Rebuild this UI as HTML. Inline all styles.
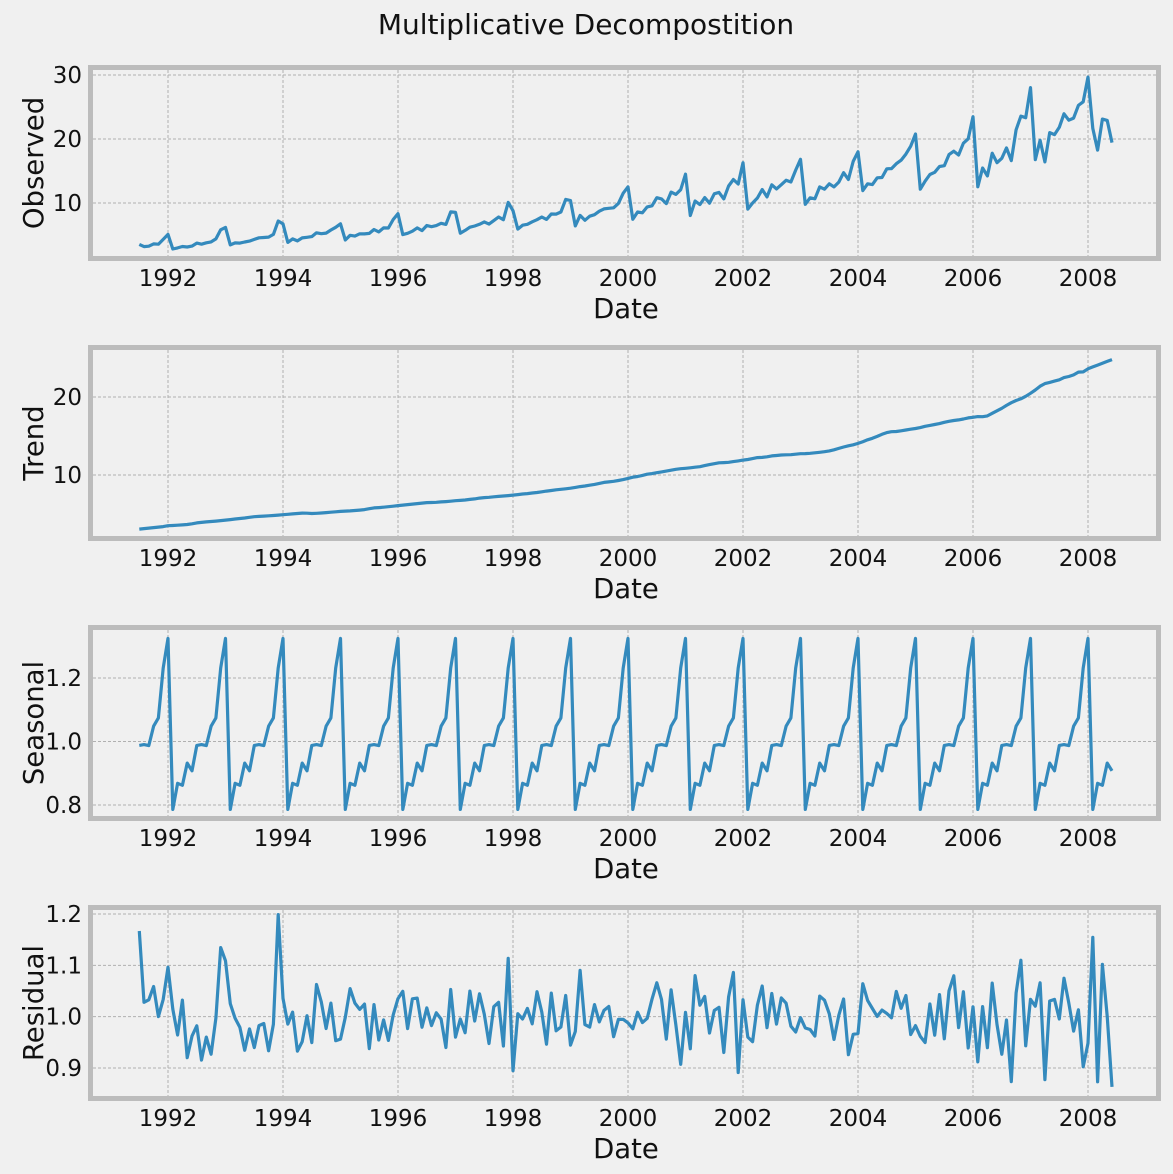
<!DOCTYPE html>
<html><head><meta charset="utf-8">
<style>
body{margin:0;background:#f0f0f0;}
svg{display:block;font-family:"DejaVu Sans","Liberation Sans",sans-serif;}
</style></head>
<body>
<svg id="fig" width="1173" height="1174" viewBox="0 0 1173 1174">
<rect width="1173" height="1174" fill="#f0f0f0"/>
<text x="586" y="34" font-size="28" text-anchor="middle" fill="#111">Multiplicative Decompostition</text>
</svg>
<script>
const observed = [3.526591,3.180891,3.252221,3.611003,3.565869,4.306371,
5.088335,2.814520,2.985811,3.204780,3.127578,3.270523,3.737851,3.558776,3.777202,3.924490,4.386531,5.810549,
6.192068,3.450857,3.772307,3.734303,3.905399,4.049687,4.315566,4.562185,4.608662,4.667851,5.093841,7.179962,
6.731473,3.841278,4.394076,4.075341,4.540645,4.645615,4.752607,5.350605,5.204455,5.301651,5.773742,6.204593,
6.749484,4.216067,4.949349,4.823045,5.194754,5.170787,5.256742,5.855277,5.490729,6.115293,6.088473,7.416598,
8.329452,5.069175,5.262557,5.597497,6.110193,5.689660,6.486846,6.300216,6.467156,6.828887,6.649714,8.606925,
8.524996,5.277625,5.714779,6.214862,6.411760,6.667704,7.050191,6.704203,7.250851,7.819153,7.398370,10.096325,
8.798748,5.918863,6.534368,6.675049,7.064287,7.383760,7.813230,7.431071,8.275620,8.260024,8.596262,10.558939,
10.391861,6.421894,8.062790,7.297115,7.936804,8.165495,8.717420,9.070964,9.177078,9.251887,9.933759,11.532974,
12.511462,7.457199,8.591573,8.474000,9.386803,9.560399,10.834295,10.643751,9.908598,11.710041,11.340151,12.079132,
14.497581,8.049275,10.312891,9.753358,10.850382,9.961719,11.443601,11.659239,10.647060,12.652134,13.674466,12.965735,
16.300269,9.053485,10.002449,10.788750,12.106705,10.954101,12.844566,12.196500,12.854748,13.542004,13.287640,15.134918,
16.828350,9.800215,10.816994,10.654223,12.512323,12.161210,12.998046,12.517276,13.268658,14.733622,13.669382,16.503966,
18.003768,11.938030,12.997900,12.882645,13.943447,13.989472,15.339097,15.370764,16.142005,16.685754,17.636728,18.869325,
20.778723,12.154552,13.402392,14.459239,14.795102,15.705248,15.829550,17.554701,18.100864,17.496668,19.347265,20.031291,
23.486694,12.536987,15.467018,14.233539,17.783058,16.291602,16.980282,18.612189,16.623343,21.430241,23.575517,23.334206,
28.038383,16.763869,19.792754,16.427305,21.000742,20.681002,21.834890,23.930204,22.930357,23.263340,25.250030,25.806090,
29.665356,21.654285,18.264945,23.107677,22.912510,19.431740];
const startYear = 1991, startMonth = 7;
const xTicks = [1992,1994,1996,1998,2000,2002,2004,2006,2008];
const obsTicks = [10,20,30];
const trendTicks = [10,20];
const seasTicks = [0.8,1.0,1.2];
const residTicks = [0.9,1.0,1.1,1.2];

// multiplicative decomposition (period 12, trend extrapolated)
const P = 12, n = observed.length;
const trend = new Array(n).fill(NaN);
for (let i = 6; i < n - 6; i++) {
  let s = 0.5*observed[i-6] + 0.5*observed[i+6];
  for (let k = -5; k <= 5; k++) s += observed[i+k];
  trend[i] = s / 12;
}
function fitExt(idx){ const xs=idx, ys=idx.map(i=>trend[i]); const m=xs.length;
  const mx=xs.reduce((a,b)=>a+b)/m, my=ys.reduce((a,b)=>a+b)/m;
  let num=0,den=0; for(let k=0;k<m;k++){num+=(xs[k]-mx)*(ys[k]-my);den+=(xs[k]-mx)**2;}
  const b=num/den; return x=>my+b*(x-mx); }
const fFront = fitExt(Array.from({length:P},(_, k)=>6+k));
const fBack = fitExt(Array.from({length:P},(_, k)=>n-7-k));
for (let i=0;i<6;i++) trend[i]=fFront(i);
for (let i=n-6;i<n;i++) trend[i]=fBack(i);
const avg = [];
for (let p=0;p<P;p++){ let s=0,c=0; for(let i=p;i<n;i+=P){s+=observed[i]/trend[i];c++;} avg.push(s/c); }
const am = avg.reduce((a,b)=>a+b)/P;
const seasonal = observed.map((_,i)=>avg[i%P]/am);
const resid = observed.map((v,i)=>v/(trend[i]*seasonal[i]));

const svg = document.getElementById('fig');
const NS = 'http://www.w3.org/2000/svg';
function mk(tag, attrs, parent){ const e=document.createElementNS(NS,tag); for(const k in attrs) e.setAttribute(k,attrs[k]); (parent||svg).appendChild(e); return e; }
const X0 = 93, X1 = 1156;
const xScale = yr => 168 + (yr - 1992) * 57.5;
const dateOf = i => startYear + (startMonth - 1 + i) / 12;

const panels = [
  {name:'observed', label:'Observed', top:70, bot:256, vals:observed, ticks:obsTicks, fmt:v=>String(v), y:v=>267-6.4*v},
  {name:'trend', label:'Trend', top:350, bot:536, vals:trend, ticks:trendTicks, fmt:v=>String(v), y:v=>553-7.8*v},
  {name:'seasonal', label:'Seasonal', top:630, bot:816, vals:seasonal, ticks:seasTicks, fmt:v=>v.toFixed(1), y:v=>805-317.5*(v-0.8)},
  {name:'residual', label:'Residual', top:910, bot:1096, vals:resid, ticks:residTicks, fmt:v=>v.toFixed(1), y:v=>1068-513.3*(v-0.9)}
];
panels.forEach(p=>{
  const g = mk('g',{});
  
  
  const bg = mk('rect',{x:X0,y:p.top,width:X1-X0,height:p.bot-p.top,fill:'#f0f0f0'},g);
  
  
  xTicks.forEach(t=>{
    const x=xScale(t);
    const gl=mk('line',{x1:x,x2:x,y1:p.top,y2:p.bot,stroke:'#b0b0b0','stroke-width':1,'stroke-dasharray':'3,2'},g);
    
    
    const tl=mk('text',{x:x,y:p.bot+30,'font-size':23,'text-anchor':'middle',fill:'#111'},g);
    tl.textContent=t;
    
    
  });
  p.ticks.forEach(t=>{
    const y=p.y(t);
    const gl=mk('line',{x1:X0,x2:X1,y1:y,y2:y,stroke:'#b0b0b0','stroke-width':1,'stroke-dasharray':'3,2'},g);
    
    
    const tl=mk('text',{x:82,y:y+8,'font-size':23,'text-anchor':'end',fill:'#111'},g);
    tl.textContent=p.fmt(t);
    
    
  });
  const d = p.vals.map((v,i)=>(i?'L':'M')+xScale(dateOf(i)).toFixed(1)+','+p.y(v).toFixed(1)).join(' ');
  const line = mk('path',{d:d,fill:'none',stroke:'#348ABD','stroke-width':3.2,'stroke-linejoin':'round'},g);
  
  
  const fr = mk('rect',{x:X0-2.5,y:p.top-2.5,width:X1-X0+5,height:p.bot-p.top+5,fill:'none',stroke:'#bcbcbc','stroke-width':5},g);
  
  
  const xl = mk('text',{x:626,y:p.bot+62,'font-size':27.5,'text-anchor':'middle',fill:'#111'},g);
  xl.textContent='Date';
  
  
  const cy=(p.top+p.bot)/2;
  const yl = mk('text',{x:0,y:0,'font-size':27.5,'text-anchor':'middle',fill:'#111',transform:`translate(43,${cy}) rotate(-90)`},g);
  yl.textContent=p.label;
  
  
});
</script>
</body></html>
